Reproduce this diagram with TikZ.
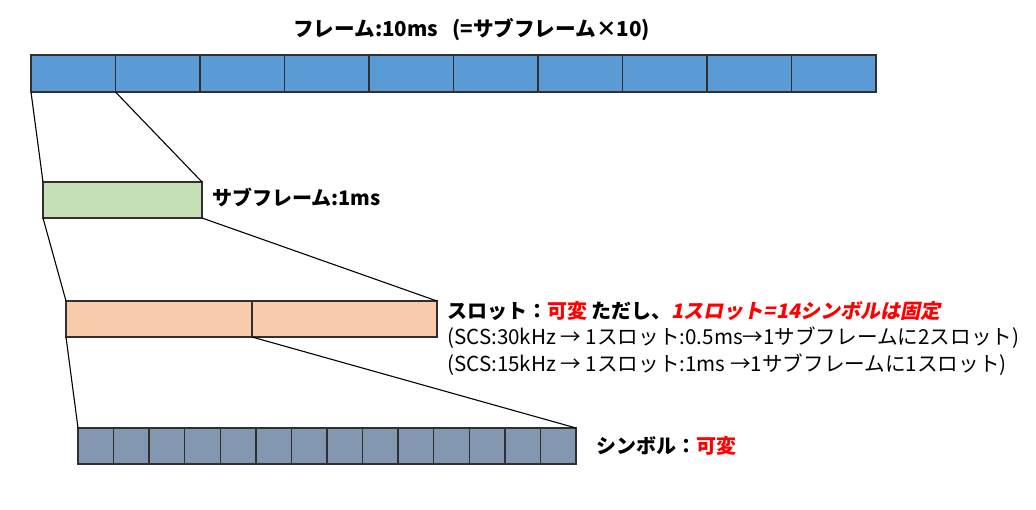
\documentclass[tikz,border=0pt]{standalone}
\usepackage{fontspec}
\newfontfamily\jp{Noto Sans CJK JP}
\newfontfamily\jpit[FakeSlant=0.2]{Noto Sans CJK JP}
\definecolor{fblue}{HTML}{5B9BD5}
\definecolor{sgreen}{HTML}{C5E0B4}
\definecolor{slotc}{HTML}{F8CBAD}
\definecolor{symc}{HTML}{8497B0}
\definecolor{edge}{HTML}{303030}
\definecolor{redt}{HTML}{FF0000}
\tikzset{
  cell/.style={draw=edge, line width=1.4pt, rectangle, inner sep=0pt, outer sep=0pt, anchor=north west},
  link/.style={draw=black, line width=1.1pt},
  lbl/.style={inner sep=0pt, anchor=west, font=\jp\bfseries\fontsize{20}{24}\selectfont},
  sub/.style={inner sep=0pt, anchor=west, font=\jp\fontsize{20.6}{24}\selectfont}
}
\begin{document}
\begin{tikzpicture}[x=1pt,y=-1pt]
\useasboundingbox (0,0) rectangle (1036,510);
% frame
\foreach \i in {1,...,10}{
  \node[cell, fill=fblue, minimum width=84.5pt, minimum height=37pt] (f\i) at ({31+(\i-1)*84.5},55) {};
}
\node[lbl, font=\jp\bfseries\fontsize{20.6}{24}\selectfont] (title) at (293,30) {フレーム:10ms\ \ \ (=サブフレーム×10)};
% subframe
\node[cell, fill=sgreen, minimum width=159pt, minimum height=36pt] (sf) at (43,182) {};
\node[lbl] (sflbl) at (212,197) {サブフレーム:1ms};
% slots
\node[cell, fill=slotc, minimum width=186pt, minimum height=36pt] (s1) at (66,301) {};
\node[cell, fill=slotc, minimum width=185pt, minimum height=36pt] (s2) at (252,301) {};
\node[lbl] (sl1) at (447,311) {スロット：{\color{redt}可変} ただし、{\color{redt}\jpit\bfseries 1スロット=14シンボルは固定}};
\node[sub] (sl2) at (447,338) {(SCS:30kHz → 1スロット:0.5ms→1サブフレームに2スロット)};
\node[sub] (sl3) at (447,365) {(SCS:15kHz → 1スロット:1ms →1サブフレームに1スロット)};
% symbols
\foreach \i in {1,...,14}{
  \node[cell, fill=symc, minimum width=35.571pt, minimum height=36pt] (y\i) at ({78+(\i-1)*35.571},428) {};
}
\node[lbl] (symlbl) at (596,446) {シンボル：{\color{redt}可変}};
% connectors
\draw[link] (f1.south west) -- (sf.north west);
\draw[link] (f1.south east) -- (sf.north east);
\draw[link] (sf.south west) -- (s1.north west);
\draw[link] (sf.south east) -- (s2.north east);
\draw[link] (s1.south west) -- (y1.north west);
\draw[link] (s1.south east) -- (y14.north east);
\end{tikzpicture}
\end{document}
